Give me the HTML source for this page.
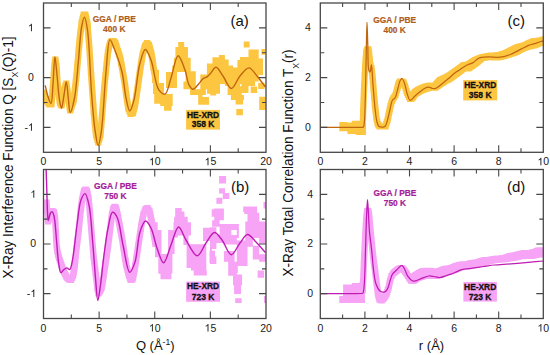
<!DOCTYPE html>
<html><head><meta charset="utf-8"><style>html,body{margin:0;padding:0;background:#fff;width:550px;height:355px;overflow:hidden}svg{display:block;font-family:"Liberation Sans",sans-serif}</style></head>
<body>
<svg width="550" height="355" viewBox="0 0 550 355" fill="#1a1a1a">
<rect width="550" height="355" fill="#fff"/>
<defs>
<clipPath id="clipa"><rect x="43.50" y="3.00" width="222.50" height="149.30"/></clipPath>
<clipPath id="clipb"><rect x="43.50" y="169.50" width="222.50" height="149.00"/></clipPath>
<clipPath id="clipc"><rect x="320.30" y="3.00" width="223.00" height="149.30"/></clipPath>
<clipPath id="clipd"><rect x="320.30" y="169.50" width="223.00" height="149.00"/></clipPath>
</defs>
<g clip-path="url(#clipa)" fill="#fdc640">
<path d="M40.9,89.9h6.2v6.2h-6.2zM41.4,91.9h6.2v6.2h-6.2zM41.9,93.9h6.2v6.2h-6.2zM42.9,95.9h6.2v6.2h-6.2zM43.9,97.9h6.2v6.2h-6.2zM44.7,99.1h6.2v6.2h-6.2zM45.6,100.2h6.2v6.2h-6.2zM46.4,101.4h6.2v6.2h-6.2zM47.4,101.2h6.2v6.2h-6.2zM48.4,100.9h6.2v6.2h-6.2zM48.6,98.5h6.2v6.2h-6.2zM48.8,96.2h6.2v6.2h-6.2zM49.0,93.8h6.2v6.2h-6.2zM49.1,91.4h6.2v6.2h-6.2zM49.3,89.0h6.2v6.2h-6.2zM49.5,86.7h6.2v6.2h-6.2zM49.7,84.3h6.2v6.2h-6.2zM49.9,81.9h6.2v6.2h-6.2zM50.1,79.4h6.2v6.2h-6.2zM50.3,76.9h6.2v6.2h-6.2zM50.5,74.4h6.2v6.2h-6.2zM50.6,71.9h6.2v6.2h-6.2zM50.8,69.4h6.2v6.2h-6.2zM51.0,66.9h6.2v6.2h-6.2zM51.2,64.4h6.2v6.2h-6.2zM51.4,61.9h6.2v6.2h-6.2zM51.7,60.1h6.2v6.2h-6.2zM51.9,58.3h6.2v6.2h-6.2zM52.2,56.5h6.2v6.2h-6.2zM52.6,58.6h6.2v6.2h-6.2zM53.0,60.8h6.2v6.2h-6.2zM53.4,62.9h6.2v6.2h-6.2zM53.5,65.3h6.2v6.2h-6.2zM53.7,67.7h6.2v6.2h-6.2zM53.9,70.1h6.2v6.2h-6.2zM54.0,72.5h6.2v6.2h-6.2zM54.1,74.9h6.2v6.2h-6.2zM54.3,77.3h6.2v6.2h-6.2zM54.4,79.7h6.2v6.2h-6.2zM54.6,82.1h6.2v6.2h-6.2zM54.8,84.5h6.2v6.2h-6.2zM54.9,86.9h6.2v6.2h-6.2zM55.2,89.1h6.2v6.2h-6.2zM55.6,91.2h6.2v6.2h-6.2zM55.9,93.4h6.2v6.2h-6.2zM56.2,95.6h6.2v6.2h-6.2zM56.6,97.7h6.2v6.2h-6.2zM56.9,99.9h6.2v6.2h-6.2zM57.7,101.2h6.2v6.2h-6.2zM58.5,102.4h6.2v6.2h-6.2zM58.8,100.2h6.2v6.2h-6.2zM59.2,98.0h6.2v6.2h-6.2zM59.5,95.8h6.2v6.2h-6.2zM59.9,93.5h6.2v6.2h-6.2zM60.2,91.3h6.2v6.2h-6.2zM60.6,89.1h6.2v6.2h-6.2zM60.9,86.9h6.2v6.2h-6.2zM61.7,84.7h6.2v6.2h-6.2zM62.4,82.6h6.2v6.2h-6.2zM63.2,80.4h6.2v6.2h-6.2zM63.5,82.7h6.2v6.2h-6.2zM63.9,85.0h6.2v6.2h-6.2zM64.2,87.3h6.2v6.2h-6.2zM64.6,89.6h6.2v6.2h-6.2zM64.9,91.9h6.2v6.2h-6.2zM65.2,94.1h6.2v6.2h-6.2zM65.5,96.3h6.2v6.2h-6.2zM65.8,98.5h6.2v6.2h-6.2zM66.1,100.8h6.2v6.2h-6.2zM66.4,103.0h6.2v6.2h-6.2zM66.7,105.2h6.2v6.2h-6.2zM67.0,107.4h6.2v6.2h-6.2zM67.7,105.3h6.2v6.2h-6.2zM68.5,103.2h6.2v6.2h-6.2zM69.2,101.1h6.2v6.2h-6.2zM70.0,99.0h6.2v6.2h-6.2zM70.7,96.9h6.2v6.2h-6.2zM71.0,94.6h6.2v6.2h-6.2zM71.2,92.2h6.2v6.2h-6.2zM71.5,89.9h6.2v6.2h-6.2zM71.7,87.6h6.2v6.2h-6.2zM72.0,85.2h6.2v6.2h-6.2zM72.2,82.9h6.2v6.2h-6.2zM72.5,80.6h6.2v6.2h-6.2zM72.7,78.2h6.2v6.2h-6.2zM73.0,75.9h6.2v6.2h-6.2zM73.2,73.6h6.2v6.2h-6.2zM73.5,71.2h6.2v6.2h-6.2zM73.7,68.9h6.2v6.2h-6.2zM73.9,66.4h6.2v6.2h-6.2zM74.1,64.0h6.2v6.2h-6.2zM74.3,61.5h6.2v6.2h-6.2zM74.6,59.1h6.2v6.2h-6.2zM74.8,56.6h6.2v6.2h-6.2zM75.0,54.1h6.2v6.2h-6.2zM75.2,51.7h6.2v6.2h-6.2zM75.4,49.2h6.2v6.2h-6.2zM75.6,46.7h6.2v6.2h-6.2zM75.9,44.3h6.2v6.2h-6.2zM76.1,41.8h6.2v6.2h-6.2zM76.3,39.4h6.2v6.2h-6.2zM76.5,36.9h6.2v6.2h-6.2zM76.8,34.6h6.2v6.2h-6.2zM77.0,32.4h6.2v6.2h-6.2zM77.3,30.1h6.2v6.2h-6.2zM77.6,27.9h6.2v6.2h-6.2zM77.9,25.6h6.2v6.2h-6.2zM78.2,23.4h6.2v6.2h-6.2zM78.4,21.1h6.2v6.2h-6.2zM78.7,18.9h6.2v6.2h-6.2zM79.3,16.4h6.2v6.2h-6.2zM80.0,13.9h6.2v6.2h-6.2zM80.6,11.4h6.2v6.2h-6.2zM81.4,11.4h6.2v6.2h-6.2zM82.2,11.4h6.2v6.2h-6.2zM82.8,13.8h6.2v6.2h-6.2zM83.3,16.1h6.2v6.2h-6.2zM83.9,18.5h6.2v6.2h-6.2zM84.4,20.9h6.2v6.2h-6.2zM84.6,23.3h6.2v6.2h-6.2zM84.8,25.6h6.2v6.2h-6.2zM84.9,28.0h6.2v6.2h-6.2zM85.1,30.4h6.2v6.2h-6.2zM85.3,32.7h6.2v6.2h-6.2zM85.5,35.1h6.2v6.2h-6.2zM85.7,37.4h6.2v6.2h-6.2zM85.9,39.8h6.2v6.2h-6.2zM86.0,42.2h6.2v6.2h-6.2zM86.2,44.5h6.2v6.2h-6.2zM86.4,46.9h6.2v6.2h-6.2zM86.6,49.4h6.2v6.2h-6.2zM86.7,51.9h6.2v6.2h-6.2zM86.9,54.4h6.2v6.2h-6.2zM87.1,56.9h6.2v6.2h-6.2zM87.2,59.4h6.2v6.2h-6.2zM87.4,61.9h6.2v6.2h-6.2zM87.6,64.4h6.2v6.2h-6.2zM87.7,66.9h6.2v6.2h-6.2zM87.9,69.4h6.2v6.2h-6.2zM88.1,71.9h6.2v6.2h-6.2zM88.2,74.4h6.2v6.2h-6.2zM88.4,76.9h6.2v6.2h-6.2zM88.6,79.4h6.2v6.2h-6.2zM88.8,81.9h6.2v6.2h-6.2zM88.9,84.4h6.2v6.2h-6.2zM89.1,86.9h6.2v6.2h-6.2zM89.3,89.4h6.2v6.2h-6.2zM89.5,91.9h6.2v6.2h-6.2zM89.7,94.4h6.2v6.2h-6.2zM89.8,96.9h6.2v6.2h-6.2zM90.0,99.4h6.2v6.2h-6.2zM90.2,101.9h6.2v6.2h-6.2zM90.4,104.4h6.2v6.2h-6.2zM90.5,106.9h6.2v6.2h-6.2zM90.7,109.4h6.2v6.2h-6.2zM90.9,111.9h6.2v6.2h-6.2zM91.2,114.4h6.2v6.2h-6.2zM91.4,116.9h6.2v6.2h-6.2zM91.7,119.4h6.2v6.2h-6.2zM91.9,121.9h6.2v6.2h-6.2zM92.2,124.4h6.2v6.2h-6.2zM92.4,126.9h6.2v6.2h-6.2zM92.7,129.4h6.2v6.2h-6.2zM92.9,131.9h6.2v6.2h-6.2zM93.7,134.4h6.2v6.2h-6.2zM94.4,136.9h6.2v6.2h-6.2zM95.2,139.4h6.2v6.2h-6.2zM95.9,136.9h6.2v6.2h-6.2zM96.7,134.4h6.2v6.2h-6.2zM97.4,131.9h6.2v6.2h-6.2zM97.6,129.4h6.2v6.2h-6.2zM97.8,126.9h6.2v6.2h-6.2zM98.0,124.4h6.2v6.2h-6.2zM98.2,121.9h6.2v6.2h-6.2zM98.4,119.4h6.2v6.2h-6.2zM98.6,116.9h6.2v6.2h-6.2zM98.8,114.4h6.2v6.2h-6.2zM99.0,111.9h6.2v6.2h-6.2zM99.2,109.4h6.2v6.2h-6.2zM99.4,106.9h6.2v6.2h-6.2zM99.6,104.4h6.2v6.2h-6.2zM99.8,101.9h6.2v6.2h-6.2zM100.0,99.4h6.2v6.2h-6.2zM100.2,96.9h6.2v6.2h-6.2zM100.4,94.4h6.2v6.2h-6.2zM100.6,91.9h6.2v6.2h-6.2zM100.8,89.4h6.2v6.2h-6.2zM101.0,86.9h6.2v6.2h-6.2zM101.2,84.4h6.2v6.2h-6.2zM101.4,81.9h6.2v6.2h-6.2zM101.7,79.4h6.2v6.2h-6.2zM101.9,76.9h6.2v6.2h-6.2zM102.2,74.4h6.2v6.2h-6.2zM102.4,71.9h6.2v6.2h-6.2zM102.7,69.4h6.2v6.2h-6.2zM102.9,66.9h6.2v6.2h-6.2zM103.2,64.4h6.2v6.2h-6.2zM103.4,61.9h6.2v6.2h-6.2zM103.7,59.7h6.2v6.2h-6.2zM103.9,57.6h6.2v6.2h-6.2zM104.2,55.4h6.2v6.2h-6.2zM104.4,53.2h6.2v6.2h-6.2zM104.7,51.1h6.2v6.2h-6.2zM104.9,48.9h6.2v6.2h-6.2zM105.4,46.6h6.2v6.2h-6.2zM105.9,44.2h6.2v6.2h-6.2zM106.4,41.9h6.2v6.2h-6.2zM107.2,40.1h6.2v6.2h-6.2zM107.9,38.4h6.2v6.2h-6.2zM108.7,38.2h6.2v6.2h-6.2zM109.6,38.1h6.2v6.2h-6.2zM110.4,37.9h6.2v6.2h-6.2zM111.1,38.7h6.2v6.2h-6.2zM111.8,39.6h6.2v6.2h-6.2zM112.5,40.4h6.2v6.2h-6.2zM113.3,42.9h6.2v6.2h-6.2zM114.1,45.4h6.2v6.2h-6.2zM114.9,47.9h6.2v6.2h-6.2zM115.6,50.2h6.2v6.2h-6.2zM116.4,52.6h6.2v6.2h-6.2zM117.1,54.9h6.2v6.2h-6.2zM117.6,57.3h6.2v6.2h-6.2zM118.0,59.7h6.2v6.2h-6.2zM118.5,62.1h6.2v6.2h-6.2zM118.9,64.5h6.2v6.2h-6.2zM119.4,66.9h6.2v6.2h-6.2zM119.8,69.4h6.2v6.2h-6.2zM120.2,71.9h6.2v6.2h-6.2zM120.7,74.4h6.2v6.2h-6.2zM121.1,76.9h6.2v6.2h-6.2zM121.5,79.4h6.2v6.2h-6.2zM121.9,81.9h6.2v6.2h-6.2zM122.2,84.4h6.2v6.2h-6.2zM122.6,86.9h6.2v6.2h-6.2zM122.9,89.4h6.2v6.2h-6.2zM123.2,91.9h6.2v6.2h-6.2zM123.6,94.4h6.2v6.2h-6.2zM123.9,96.9h6.2v6.2h-6.2zM124.3,99.2h6.2v6.2h-6.2zM124.7,101.4h6.2v6.2h-6.2zM125.0,103.7h6.2v6.2h-6.2zM125.4,105.9h6.2v6.2h-6.2zM126.4,108.4h6.2v6.2h-6.2zM127.4,110.9h6.2v6.2h-6.2zM128.2,110.6h6.2v6.2h-6.2zM129.1,110.2h6.2v6.2h-6.2zM129.9,109.9h6.2v6.2h-6.2zM130.4,107.9h6.2v6.2h-6.2zM130.9,105.9h6.2v6.2h-6.2zM131.4,103.9h6.2v6.2h-6.2zM131.9,101.9h6.2v6.2h-6.2zM132.2,99.7h6.2v6.2h-6.2zM132.6,97.6h6.2v6.2h-6.2zM132.9,95.4h6.2v6.2h-6.2zM133.2,93.2h6.2v6.2h-6.2zM133.6,91.1h6.2v6.2h-6.2zM133.9,88.9h6.2v6.2h-6.2zM134.2,86.6h6.2v6.2h-6.2zM134.6,84.2h6.2v6.2h-6.2zM134.9,81.9h6.2v6.2h-6.2zM135.2,79.6h6.2v6.2h-6.2zM135.6,77.2h6.2v6.2h-6.2zM135.9,74.9h6.2v6.2h-6.2zM136.2,72.6h6.2v6.2h-6.2zM136.6,70.2h6.2v6.2h-6.2zM136.9,67.9h6.2v6.2h-6.2zM137.2,65.6h6.2v6.2h-6.2zM137.6,63.2h6.2v6.2h-6.2zM137.9,60.9h6.2v6.2h-6.2zM138.3,58.7h6.2v6.2h-6.2zM138.7,56.5h6.2v6.2h-6.2zM139.1,54.3h6.2v6.2h-6.2zM139.5,52.1h6.2v6.2h-6.2zM139.9,49.9h6.2v6.2h-6.2zM140.6,47.6h6.2v6.2h-6.2zM141.2,45.2h6.2v6.2h-6.2zM141.9,42.9h6.2v6.2h-6.2zM142.9,41.4h6.2v6.2h-6.2zM143.9,39.9h6.2v6.2h-6.2zM144.9,40.9h6.2v6.2h-6.2zM145.9,41.9h6.2v6.2h-6.2zM146.6,44.2h6.2v6.2h-6.2zM147.2,46.6h6.2v6.2h-6.2zM147.9,48.9h6.2v6.2h-6.2zM148.3,50.9h6.2v6.2h-6.2zM148.7,52.9h6.2v6.2h-6.2zM149.0,54.9h6.2v6.2h-6.2zM149.4,56.9h6.2v6.2h-6.2zM149.7,58.9h6.2v6.2h-6.2zM149.9,60.9h6.2v6.2h-6.2zM150.2,62.9h6.2v6.2h-6.2zM150.4,64.9h6.2v6.2h-6.2zM150.9,67.2h6.2v6.2h-6.2zM151.4,69.6h6.2v6.2h-6.2zM151.9,71.9h6.2v6.2h-6.2zM152.0,70.0H159.0V83.0H152.0zM153.0,83.0H164.0V94.0H153.0zM154.2,94.0H160.7V103.7H154.2zM160.2,94.0H172.7V105.9H160.2zM164.0,105.9H171.6V110.8H164.0zM166.0,72.0H177.0V88.0H166.0zM172.2,65.4H190.7V72.0H172.2zM173.8,57.8H190.7V65.4H173.8zM175.4,46.9H188.0V57.8H175.4zM178.2,42.0H184.2V46.9H178.2zM185.6,71.3H195.8V81.4H185.6zM183.4,81.4H195.8V89.3H183.4zM190.1,89.3H205.9V94.9H190.1zM198.2,90.5H202.5V104.7H198.2zM198.2,97.0H209.1V104.7H198.2zM200.3,74.6H212.7V89.3H200.3zM207.0,63.4H220.0V93.8H207.0zM210.2,88.4H216.2V95.4H210.2zM206.9,64.4H212.4V88.0H206.9zM212.4,57.3H218.9V88.0H212.4zM218.9,55.1H224.9V84.0H218.9zM224.9,59.4H228.7V86.0H224.9zM228.7,65.4H233.0V95.0H228.7zM233.0,67.5H237.4V96.0H233.0zM227.6,86.2H241.8V94.9H227.6zM230.9,94.9H244.0V100.0H230.9zM235.6,97.7H243.1V104.6H235.6zM237.4,60.0H240.0V96.0H237.4zM240.0,56.9H248.5V84.3H240.0zM241.5,84.3H248.5V92.9H241.5zM248.5,49.4H258.7V81.6H248.5zM250.7,86.5H257.1V92.9H250.7zM258.2,58.5H263.0V75.0H258.2zM258.2,82.7H264.6V89.1H258.2zM259.2,96.7H265.7V110.0H259.2zM261.4,48.9H265.1V54.8H261.4zM243.7,41.4H249.6V47.6H243.7zM236.3,109.0H242.9V115.3H236.3zM248.5,81.6H255.0V86.0H248.5z"/>
</g>
<g clip-path="url(#clipb)" fill="#f7a3f6">
<path d="M43.4,199.4h6.2v6.2h-6.2zM43.5,201.2h6.2v6.2h-6.2zM43.6,203.1h6.2v6.2h-6.2zM43.7,204.9h6.2v6.2h-6.2zM43.9,206.9h6.2v6.2h-6.2zM44.2,208.9h6.2v6.2h-6.2zM44.4,210.9h6.2v6.2h-6.2zM44.6,213.4h6.2v6.2h-6.2zM44.7,215.9h6.2v6.2h-6.2zM44.9,218.4h6.2v6.2h-6.2zM45.6,216.6h6.2v6.2h-6.2zM46.2,214.7h6.2v6.2h-6.2zM46.9,212.9h6.2v6.2h-6.2zM47.9,210.4h6.2v6.2h-6.2zM48.9,207.9h6.2v6.2h-6.2zM49.9,208.4h6.2v6.2h-6.2zM50.9,208.9h6.2v6.2h-6.2zM51.2,210.9h6.2v6.2h-6.2zM51.6,212.9h6.2v6.2h-6.2zM51.9,214.9h6.2v6.2h-6.2zM52.1,217.2h6.2v6.2h-6.2zM52.2,219.6h6.2v6.2h-6.2zM52.4,221.9h6.2v6.2h-6.2zM52.5,224.4h6.2v6.2h-6.2zM52.6,226.9h6.2v6.2h-6.2zM52.8,229.4h6.2v6.2h-6.2zM52.9,231.9h6.2v6.2h-6.2zM53.0,234.4h6.2v6.2h-6.2zM53.1,236.9h6.2v6.2h-6.2zM53.3,239.4h6.2v6.2h-6.2zM53.4,241.9h6.2v6.2h-6.2zM53.7,244.2h6.2v6.2h-6.2zM54.1,246.6h6.2v6.2h-6.2zM54.4,248.9h6.2v6.2h-6.2zM54.9,250.9h6.2v6.2h-6.2zM55.4,252.9h6.2v6.2h-6.2zM55.9,254.9h6.2v6.2h-6.2zM56.7,257.2h6.2v6.2h-6.2zM57.6,259.6h6.2v6.2h-6.2zM58.4,261.9h6.2v6.2h-6.2zM59.2,264.2h6.2v6.2h-6.2zM60.1,266.6h6.2v6.2h-6.2zM60.9,268.9h6.2v6.2h-6.2zM61.7,270.6h6.2v6.2h-6.2zM62.6,272.2h6.2v6.2h-6.2zM63.4,273.9h6.2v6.2h-6.2zM64.2,274.7h6.2v6.2h-6.2zM65.1,275.6h6.2v6.2h-6.2zM65.9,276.4h6.2v6.2h-6.2zM66.9,276.6h6.2v6.2h-6.2zM67.9,276.9h6.2v6.2h-6.2zM68.9,274.9h6.2v6.2h-6.2zM69.9,272.9h6.2v6.2h-6.2zM70.3,270.9h6.2v6.2h-6.2zM70.7,268.9h6.2v6.2h-6.2zM71.0,266.9h6.2v6.2h-6.2zM71.4,264.9h6.2v6.2h-6.2zM71.7,262.4h6.2v6.2h-6.2zM71.9,259.9h6.2v6.2h-6.2zM72.2,257.4h6.2v6.2h-6.2zM72.4,254.9h6.2v6.2h-6.2zM72.7,252.4h6.2v6.2h-6.2zM72.9,249.9h6.2v6.2h-6.2zM73.2,247.4h6.2v6.2h-6.2zM73.4,244.9h6.2v6.2h-6.2zM73.7,242.9h6.2v6.2h-6.2zM73.9,240.9h6.2v6.2h-6.2zM74.2,238.9h6.2v6.2h-6.2zM74.4,236.9h6.2v6.2h-6.2zM74.7,234.9h6.2v6.2h-6.2zM74.9,232.9h6.2v6.2h-6.2zM75.2,230.9h6.2v6.2h-6.2zM75.4,228.9h6.2v6.2h-6.2zM75.7,226.4h6.2v6.2h-6.2zM75.9,223.9h6.2v6.2h-6.2zM76.2,221.4h6.2v6.2h-6.2zM76.4,218.9h6.2v6.2h-6.2zM76.7,216.4h6.2v6.2h-6.2zM76.9,213.9h6.2v6.2h-6.2zM77.2,211.4h6.2v6.2h-6.2zM77.4,208.9h6.2v6.2h-6.2zM77.7,206.5h6.2v6.2h-6.2zM78.0,204.1h6.2v6.2h-6.2zM78.3,201.7h6.2v6.2h-6.2zM78.6,199.3h6.2v6.2h-6.2zM78.9,196.9h6.2v6.2h-6.2zM79.4,194.7h6.2v6.2h-6.2zM79.9,192.4h6.2v6.2h-6.2zM80.4,190.2h6.2v6.2h-6.2zM80.9,187.9h6.2v6.2h-6.2zM81.7,187.2h6.2v6.2h-6.2zM82.4,186.4h6.2v6.2h-6.2zM83.2,187.2h6.2v6.2h-6.2zM83.9,187.9h6.2v6.2h-6.2zM84.4,190.2h6.2v6.2h-6.2zM84.9,192.6h6.2v6.2h-6.2zM85.4,194.9h6.2v6.2h-6.2zM85.7,197.4h6.2v6.2h-6.2zM85.9,199.9h6.2v6.2h-6.2zM86.2,202.4h6.2v6.2h-6.2zM86.4,204.9h6.2v6.2h-6.2zM86.6,207.3h6.2v6.2h-6.2zM86.8,209.7h6.2v6.2h-6.2zM87.0,212.1h6.2v6.2h-6.2zM87.2,214.5h6.2v6.2h-6.2zM87.4,216.9h6.2v6.2h-6.2zM87.6,219.3h6.2v6.2h-6.2zM87.8,221.7h6.2v6.2h-6.2zM88.0,224.1h6.2v6.2h-6.2zM88.2,226.5h6.2v6.2h-6.2zM88.4,228.9h6.2v6.2h-6.2zM88.6,231.3h6.2v6.2h-6.2zM88.8,233.7h6.2v6.2h-6.2zM89.0,236.1h6.2v6.2h-6.2zM89.2,238.5h6.2v6.2h-6.2zM89.4,240.9h6.2v6.2h-6.2zM89.6,243.3h6.2v6.2h-6.2zM89.8,245.7h6.2v6.2h-6.2zM90.0,248.1h6.2v6.2h-6.2zM90.2,250.5h6.2v6.2h-6.2zM90.4,252.9h6.2v6.2h-6.2zM90.7,255.3h6.2v6.2h-6.2zM91.0,257.7h6.2v6.2h-6.2zM91.3,260.1h6.2v6.2h-6.2zM91.6,262.5h6.2v6.2h-6.2zM91.9,264.9h6.2v6.2h-6.2zM92.2,267.3h6.2v6.2h-6.2zM92.5,269.7h6.2v6.2h-6.2zM92.8,272.1h6.2v6.2h-6.2zM93.1,274.5h6.2v6.2h-6.2zM93.4,276.9h6.2v6.2h-6.2zM93.7,279.1h6.2v6.2h-6.2zM93.9,281.4h6.2v6.2h-6.2zM94.2,283.6h6.2v6.2h-6.2zM94.4,285.9h6.2v6.2h-6.2zM94.9,288.1h6.2v6.2h-6.2zM95.4,290.4h6.2v6.2h-6.2zM96.2,289.1h6.2v6.2h-6.2zM96.9,287.9h6.2v6.2h-6.2zM97.7,286.4h6.2v6.2h-6.2zM98.4,284.9h6.2v6.2h-6.2zM98.8,282.9h6.2v6.2h-6.2zM99.2,280.9h6.2v6.2h-6.2zM99.5,278.9h6.2v6.2h-6.2zM99.9,276.9h6.2v6.2h-6.2zM100.3,274.4h6.2v6.2h-6.2zM100.7,271.9h6.2v6.2h-6.2zM101.0,269.4h6.2v6.2h-6.2zM101.4,266.9h6.2v6.2h-6.2zM101.8,264.4h6.2v6.2h-6.2zM102.2,261.9h6.2v6.2h-6.2zM102.5,259.4h6.2v6.2h-6.2zM102.9,256.9h6.2v6.2h-6.2zM103.3,254.4h6.2v6.2h-6.2zM103.7,251.9h6.2v6.2h-6.2zM104.0,249.4h6.2v6.2h-6.2zM104.4,246.9h6.2v6.2h-6.2zM104.7,244.5h6.2v6.2h-6.2zM105.0,242.1h6.2v6.2h-6.2zM105.3,239.7h6.2v6.2h-6.2zM105.6,237.3h6.2v6.2h-6.2zM105.9,234.9h6.2v6.2h-6.2zM106.2,232.5h6.2v6.2h-6.2zM106.5,230.1h6.2v6.2h-6.2zM106.8,227.7h6.2v6.2h-6.2zM107.1,225.3h6.2v6.2h-6.2zM107.4,222.9h6.2v6.2h-6.2zM107.7,220.5h6.2v6.2h-6.2zM108.0,218.1h6.2v6.2h-6.2zM108.3,215.7h6.2v6.2h-6.2zM108.6,213.3h6.2v6.2h-6.2zM108.9,210.9h6.2v6.2h-6.2zM109.4,208.9h6.2v6.2h-6.2zM109.9,206.9h6.2v6.2h-6.2zM110.4,204.9h6.2v6.2h-6.2zM111.4,203.7h6.2v6.2h-6.2zM112.2,204.3h6.2v6.2h-6.2zM112.9,204.9h6.2v6.2h-6.2zM113.4,206.9h6.2v6.2h-6.2zM113.9,208.9h6.2v6.2h-6.2zM114.4,210.9h6.2v6.2h-6.2zM114.8,212.9h6.2v6.2h-6.2zM115.2,214.9h6.2v6.2h-6.2zM115.5,216.9h6.2v6.2h-6.2zM115.9,218.9h6.2v6.2h-6.2zM116.3,220.9h6.2v6.2h-6.2zM116.7,222.9h6.2v6.2h-6.2zM117.0,224.9h6.2v6.2h-6.2zM117.4,226.9h6.2v6.2h-6.2zM117.8,228.9h6.2v6.2h-6.2zM118.2,230.9h6.2v6.2h-6.2zM118.5,232.9h6.2v6.2h-6.2zM118.9,234.9h6.2v6.2h-6.2zM119.3,237.4h6.2v6.2h-6.2zM119.7,239.9h6.2v6.2h-6.2zM120.0,242.4h6.2v6.2h-6.2zM120.4,244.9h6.2v6.2h-6.2zM120.8,247.4h6.2v6.2h-6.2zM121.2,249.9h6.2v6.2h-6.2zM121.5,252.4h6.2v6.2h-6.2zM121.9,254.9h6.2v6.2h-6.2zM122.3,256.9h6.2v6.2h-6.2zM122.7,258.9h6.2v6.2h-6.2zM123.0,260.9h6.2v6.2h-6.2zM123.4,262.9h6.2v6.2h-6.2zM123.9,264.9h6.2v6.2h-6.2zM124.4,266.9h6.2v6.2h-6.2zM124.9,268.9h6.2v6.2h-6.2zM125.4,270.9h6.2v6.2h-6.2zM125.9,272.9h6.2v6.2h-6.2zM126.7,274.9h6.2v6.2h-6.2zM127.4,276.9h6.2v6.2h-6.2zM128.4,276.6h6.2v6.2h-6.2zM129.4,276.4h6.2v6.2h-6.2zM129.9,274.2h6.2v6.2h-6.2zM130.4,272.1h6.2v6.2h-6.2zM130.9,269.9h6.2v6.2h-6.2zM131.3,267.6h6.2v6.2h-6.2zM131.7,265.4h6.2v6.2h-6.2zM132.0,263.1h6.2v6.2h-6.2zM132.4,260.9h6.2v6.2h-6.2zM132.8,258.4h6.2v6.2h-6.2zM133.2,255.9h6.2v6.2h-6.2zM133.5,253.4h6.2v6.2h-6.2zM133.9,250.9h6.2v6.2h-6.2zM134.3,248.4h6.2v6.2h-6.2zM134.7,245.9h6.2v6.2h-6.2zM135.0,243.4h6.2v6.2h-6.2zM135.4,240.9h6.2v6.2h-6.2zM135.8,238.4h6.2v6.2h-6.2zM136.2,235.9h6.2v6.2h-6.2zM136.5,233.4h6.2v6.2h-6.2zM136.9,230.9h6.2v6.2h-6.2zM137.3,228.4h6.2v6.2h-6.2zM137.7,225.9h6.2v6.2h-6.2zM138.0,223.4h6.2v6.2h-6.2zM138.4,220.9h6.2v6.2h-6.2zM138.9,218.4h6.2v6.2h-6.2zM139.4,215.9h6.2v6.2h-6.2zM139.9,213.4h6.2v6.2h-6.2zM140.4,210.9h6.2v6.2h-6.2zM141.4,208.4h6.2v6.2h-6.2zM142.4,205.9h6.2v6.2h-6.2zM143.4,205.4h6.2v6.2h-6.2zM144.4,204.9h6.2v6.2h-6.2zM145.4,206.4h6.2v6.2h-6.2zM146.4,207.9h6.2v6.2h-6.2zM146.9,210.2h6.2v6.2h-6.2zM147.4,212.6h6.2v6.2h-6.2zM147.9,214.9h6.2v6.2h-6.2zM148.3,216.9h6.2v6.2h-6.2zM148.7,218.9h6.2v6.2h-6.2zM149.0,220.9h6.2v6.2h-6.2zM149.4,222.9h6.2v6.2h-6.2zM149.8,225.2h6.2v6.2h-6.2zM150.2,227.4h6.2v6.2h-6.2zM150.5,229.7h6.2v6.2h-6.2zM150.9,231.9h6.2v6.2h-6.2zM151.3,234.2h6.2v6.2h-6.2zM151.7,236.4h6.2v6.2h-6.2zM152.0,238.7h6.2v6.2h-6.2zM152.4,240.9h6.2v6.2h-6.2zM175.2,208.1H181.7V211.4H175.2zM175.2,211.4H184.4V216.8H175.2zM174.1,216.8H187.7V222.3H174.1zM173.5,222.3H191.0V233.0H173.5zM155.0,222.3H157.7V233.0H155.0zM211.7,209.2H215.0V216.8H211.7zM203.0,227.7H215.0V233.0H203.0zM155.0,230.0H161.5V257.3H155.0zM158.3,254.0H172.4V268.0H158.3zM168.1,230.0H174.6V254.0H168.1zM174.6,230.0H177.9V237.6H174.6zM177.9,230.0H191.0V235.5H177.9zM183.4,235.5H188.5V245.0H183.4zM186.6,244.2H206.3V268.0H186.6zM203.0,230.0H215.0V241.0H203.0zM209.5,250.7H215.0V262.7H209.5zM158.3,265.0H172.4V273.7H158.3zM160.5,273.7H171.4V279.2H160.5zM191.0,265.0H206.3V270.5H191.0zM193.7,270.5H206.8V275.4H193.7zM219.1,175.9H226.1V183.4H219.1zM219.1,188.2H225.0V193.6H219.1zM222.8,193.0H229.3V198.9H222.8zM216.4,197.8H222.3V203.7H216.4zM263.5,202.1H266.2V208.6H263.5zM243.2,206.4H249.6V212.0H243.2zM214.3,208.6H223.9V220.3H214.3zM212.1,220.3H219.6V226.8H212.1zM219.6,224.1H238.9V230.0H219.6zM219.6,230.0H231.4V238.0H219.6zM236.8,230.0H238.9V238.0H236.8zM219.6,235.3H238.9V238.0H219.6zM210.0,227.3H216.4V238.0H210.0zM244.3,206.4H257.1V213.9H244.3zM247.5,212.8H259.3V221.4H247.5zM245.3,221.4H267.8V238.0H245.3zM210.0,235.0H216.4V249.0H210.0zM210.0,249.0H212.0V256.4H210.0zM210.0,256.4H216.4V263.9H210.0zM216.4,235.0H223.9V243.0H216.4zM223.9,235.0H236.8V244.6H223.9zM223.9,251.0H234.6V261.8H223.9zM228.2,261.8H237.8V273.0H228.2zM236.8,240.4H247.5V266.0H236.8zM245.3,235.0H252.8V246.8H245.3zM252.8,245.7H259.2V259.6H252.8zM259.2,235.0H266.0V243.4H259.2zM259.2,254.3H266.0V261.8H259.2zM228.2,265.0H236.8V275.7H228.2zM233.0,274.6H242.1V285.3H233.0zM234.1,285.3H241.0V293.9H234.1zM235.2,298.2H241.6V303.0H235.2zM238.9,265.0H247.5V266.0H238.9zM257.6,270.4H264.1V277.8H257.6zM264.0,296.0H266.2V303.0H264.0z"/>
</g>
<g clip-path="url(#clipc)" fill="#fdc640">
<path d="M359.7,121.9h6.2v6.2h-6.2zM359.8,119.4h6.2v6.2h-6.2zM359.8,116.9h6.2v6.2h-6.2zM359.9,114.4h6.2v6.2h-6.2zM360.0,111.9h6.2v6.2h-6.2zM360.0,109.4h6.2v6.2h-6.2zM360.1,106.9h6.2v6.2h-6.2zM360.2,104.4h6.2v6.2h-6.2zM360.3,101.9h6.2v6.2h-6.2zM360.4,99.4h6.2v6.2h-6.2zM360.5,96.9h6.2v6.2h-6.2zM360.6,94.4h6.2v6.2h-6.2zM360.7,91.9h6.2v6.2h-6.2zM360.8,89.4h6.2v6.2h-6.2zM360.9,86.9h6.2v6.2h-6.2zM361.0,84.4h6.2v6.2h-6.2zM361.1,81.9h6.2v6.2h-6.2zM361.3,79.4h6.2v6.2h-6.2zM361.4,76.9h6.2v6.2h-6.2zM361.5,74.4h6.2v6.2h-6.2zM361.6,71.9h6.2v6.2h-6.2zM361.8,69.4h6.2v6.2h-6.2zM361.9,66.9h6.2v6.2h-6.2zM362.0,64.4h6.2v6.2h-6.2zM362.2,61.9h6.2v6.2h-6.2zM362.4,59.4h6.2v6.2h-6.2zM362.5,56.9h6.2v6.2h-6.2zM362.7,54.9h6.2v6.2h-6.2zM362.9,52.9h6.2v6.2h-6.2zM363.0,50.9h6.2v6.2h-6.2zM363.2,48.9h6.2v6.2h-6.2zM363.7,47.6h6.2v6.2h-6.2zM364.2,46.3h6.2v6.2h-6.2zM364.8,46.3h6.2v6.2h-6.2zM365.4,46.3h6.2v6.2h-6.2zM365.6,48.2h6.2v6.2h-6.2zM365.9,50.0h6.2v6.2h-6.2zM366.1,51.9h6.2v6.2h-6.2zM366.3,54.2h6.2v6.2h-6.2zM366.6,56.6h6.2v6.2h-6.2zM366.8,58.9h6.2v6.2h-6.2zM367.1,60.9h6.2v6.2h-6.2zM367.5,62.9h6.2v6.2h-6.2zM368.3,64.9h6.2v6.2h-6.2zM368.6,66.9h6.2v6.2h-6.2zM368.8,68.9h6.2v6.2h-6.2zM369.1,70.9h6.2v6.2h-6.2zM369.3,72.9h6.2v6.2h-6.2zM369.5,74.9h6.2v6.2h-6.2zM369.7,76.9h6.2v6.2h-6.2zM369.9,78.9h6.2v6.2h-6.2zM370.1,81.4h6.2v6.2h-6.2zM370.3,83.9h6.2v6.2h-6.2zM370.5,86.4h6.2v6.2h-6.2zM370.7,88.9h6.2v6.2h-6.2zM370.9,91.4h6.2v6.2h-6.2zM371.1,93.9h6.2v6.2h-6.2zM371.4,96.4h6.2v6.2h-6.2zM371.6,98.9h6.2v6.2h-6.2zM371.8,101.2h6.2v6.2h-6.2zM372.0,103.4h6.2v6.2h-6.2zM372.3,105.7h6.2v6.2h-6.2zM372.5,107.9h6.2v6.2h-6.2zM372.8,109.9h6.2v6.2h-6.2zM373.0,111.9h6.2v6.2h-6.2zM373.2,113.9h6.2v6.2h-6.2zM373.5,115.9h6.2v6.2h-6.2zM374.1,118.4h6.2v6.2h-6.2zM374.7,120.9h6.2v6.2h-6.2zM375.5,122.1h6.2v6.2h-6.2zM376.4,123.2h6.2v6.2h-6.2zM377.2,123.3h6.2v6.2h-6.2zM378.1,123.3h6.2v6.2h-6.2zM378.9,123.4h6.2v6.2h-6.2zM379.8,123.4h6.2v6.2h-6.2zM380.6,123.3h6.2v6.2h-6.2zM381.5,123.2h6.2v6.2h-6.2zM382.4,123.2h6.2v6.2h-6.2zM383.1,121.1h6.2v6.2h-6.2zM383.7,119.0h6.2v6.2h-6.2zM384.4,116.9h6.2v6.2h-6.2zM384.9,114.6h6.2v6.2h-6.2zM385.4,112.2h6.2v6.2h-6.2zM385.9,109.9h6.2v6.2h-6.2zM386.4,107.6h6.2v6.2h-6.2zM386.9,105.2h6.2v6.2h-6.2zM387.4,102.9h6.2v6.2h-6.2zM388.1,100.4h6.2v6.2h-6.2zM388.9,97.9h6.2v6.2h-6.2zM389.6,96.4h6.2v6.2h-6.2zM390.4,94.9h6.2v6.2h-6.2zM391.4,93.4h6.2v6.2h-6.2zM392.4,91.9h6.2v6.2h-6.2zM393.1,89.4h6.2v6.2h-6.2zM393.9,86.9h6.2v6.2h-6.2zM394.4,84.9h6.2v6.2h-6.2zM394.9,82.9h6.2v6.2h-6.2zM395.4,80.9h6.2v6.2h-6.2zM396.1,79.7h6.2v6.2h-6.2zM396.9,78.4h6.2v6.2h-6.2zM397.9,78.4h6.2v6.2h-6.2zM398.9,78.4h6.2v6.2h-6.2zM399.6,78.9h6.2v6.2h-6.2zM400.4,79.4h6.2v6.2h-6.2zM401.1,81.2h6.2v6.2h-6.2zM401.9,82.9h6.2v6.2h-6.2zM402.6,85.4h6.2v6.2h-6.2zM403.4,87.9h6.2v6.2h-6.2zM404.1,89.9h6.2v6.2h-6.2zM404.9,91.9h6.2v6.2h-6.2zM405.9,92.9h6.2v7.2h-6.2zM406.9,93.9h6.2v8.2h-6.2zM407.7,93.6h6.2v8.2h-6.2zM408.6,93.2h6.2v8.2h-6.2zM409.4,92.9h6.2v8.2h-6.2zM410.2,91.6h6.2v8.2h-6.2zM411.1,90.2h6.2v8.2h-6.2zM411.9,88.9h6.2v8.2h-6.2zM412.9,88.3h6.2v8.2h-6.2zM413.9,87.7h6.2v8.2h-6.2zM414.9,87.1h6.2v8.2h-6.2zM415.9,86.5h6.2v8.2h-6.2zM416.9,85.9h6.2v8.2h-6.2zM417.9,85.5h6.2v8.2h-6.2zM418.9,85.1h6.2v8.2h-6.2zM419.9,84.6h6.2v8.2h-6.2zM420.9,84.2h6.2v8.2h-6.2zM421.9,83.8h6.2v8.2h-6.2zM422.9,83.5h6.2v8.2h-6.2zM423.9,83.2h6.2v8.2h-6.2zM424.9,83.0h6.2v8.2h-6.2zM425.9,82.7h6.2v8.2h-6.2zM426.9,82.4h6.2v8.2h-6.2zM427.9,82.4h6.2v8.2h-6.2zM428.9,82.4h6.2v8.2h-6.2zM429.9,82.5h6.2v8.2h-6.2zM430.9,82.5h6.2v8.2h-6.2zM431.9,82.5h6.2v8.2h-6.2zM432.9,81.4h6.2v8.6h-6.2zM433.9,80.3h6.2v9.0h-6.2zM434.9,79.3h6.2v9.4h-6.2zM435.9,78.2h6.2v9.8h-6.2zM436.9,77.1h6.2v10.2h-6.2zM437.9,76.7h6.2v10.0h-6.2zM438.9,76.2h6.2v9.8h-6.2zM439.9,75.8h6.2v9.6h-6.2zM440.9,75.3h6.2v9.4h-6.2zM441.9,74.9h6.2v9.2h-6.2zM442.8,74.4h6.2v9.2h-6.2zM443.7,74.0h6.2v9.2h-6.2zM444.6,73.5h6.2v9.2h-6.2zM445.5,73.1h6.2v9.2h-6.2zM446.4,72.6h6.2v9.2h-6.2zM447.3,71.9h6.2v9.2h-6.2zM448.3,71.3h6.2v9.2h-6.2zM449.2,70.6h6.2v9.2h-6.2zM450.1,69.9h6.2v9.2h-6.2zM451.0,69.2h6.2v9.2h-6.2zM452.0,68.6h6.2v9.2h-6.2zM452.9,67.9h6.2v9.2h-6.2zM453.9,67.2h6.2v9.2h-6.2zM454.9,66.4h6.2v9.2h-6.2zM455.9,65.7h6.2v9.2h-6.2zM456.9,64.9h6.2v9.2h-6.2zM457.9,64.2h6.2v9.2h-6.2zM458.9,63.4h6.2v9.2h-6.2zM459.9,62.7h6.2v9.2h-6.2zM460.9,61.9h6.2v9.2h-6.2zM461.9,61.9h6.2v9.3h-6.2zM462.9,61.8h6.2v9.5h-6.2zM463.9,61.8h6.2v9.7h-6.2zM464.9,61.8h6.2v9.8h-6.2zM465.9,61.1h6.2v9.8h-6.2zM466.9,60.5h6.2v9.8h-6.2zM467.9,59.8h6.2v9.8h-6.2zM468.9,59.1h6.2v9.8h-6.2zM469.9,58.4h6.2v9.8h-6.2zM470.9,57.8h6.2v9.8h-6.2zM471.9,57.1h6.2v9.8h-6.2zM472.9,56.7h6.2v9.4h-6.2zM473.9,56.3h6.2v8.9h-6.2zM474.9,55.9h6.2v8.5h-6.2zM475.9,55.5h6.2v8.1h-6.2zM476.9,55.1h6.2v7.7h-6.2zM477.9,54.7h6.2v7.2h-6.2zM478.9,54.3h6.2v6.8h-6.2zM479.9,54.1h6.2v6.9h-6.2zM480.9,53.9h6.2v6.9h-6.2zM481.9,53.7h6.2v7.0h-6.2zM482.9,53.5h6.2v7.0h-6.2zM483.9,53.3h6.2v7.0h-6.2zM484.9,53.1h6.2v7.1h-6.2zM485.9,52.9h6.2v7.2h-6.2zM486.9,52.7h6.2v7.2h-6.2zM487.9,52.6h6.2v7.4h-6.2zM488.9,52.6h6.2v7.6h-6.2zM489.9,52.5h6.2v7.8h-6.2zM490.9,52.5h6.2v8.0h-6.2zM491.9,52.4h6.2v8.2h-6.2zM492.9,52.3h6.2v8.2h-6.2zM493.9,52.2h6.2v8.2h-6.2zM494.9,52.1h6.2v8.2h-6.2zM495.9,52.0h6.2v8.2h-6.2zM496.9,51.9h6.2v8.2h-6.2zM497.9,51.6h6.2v8.2h-6.2zM498.9,51.4h6.2v8.2h-6.2zM499.9,51.1h6.2v8.2h-6.2zM500.9,50.9h6.2v8.2h-6.2zM501.9,50.6h6.2v8.2h-6.2zM502.9,50.1h6.2v8.4h-6.2zM503.9,49.5h6.2v8.6h-6.2zM504.9,49.0h6.2v8.8h-6.2zM505.9,48.4h6.2v9.0h-6.2zM506.9,47.9h6.2v9.2h-6.2zM507.9,47.4h6.2v9.4h-6.2zM508.9,46.9h6.2v9.5h-6.2zM509.9,46.4h6.2v9.7h-6.2zM510.9,45.9h6.2v9.9h-6.2zM511.9,45.4h6.2v10.0h-6.2zM512.9,44.9h6.2v10.2h-6.2zM513.8,44.6h6.2v10.0h-6.2zM514.7,44.3h6.2v9.8h-6.2zM515.6,44.0h6.2v9.6h-6.2zM516.5,43.7h6.2v9.4h-6.2zM517.4,43.4h6.2v9.2h-6.2zM518.3,43.2h6.2v9.0h-6.2zM519.2,43.0h6.2v8.8h-6.2zM520.1,42.7h6.2v8.6h-6.2zM521.0,42.5h6.2v8.4h-6.2zM521.9,42.3h6.2v8.2h-6.2zM522.9,41.8h6.2v8.4h-6.2zM523.9,41.2h6.2v8.7h-6.2zM524.9,40.7h6.2v8.9h-6.2zM525.9,40.2h6.2v9.2h-6.2zM526.9,39.8h6.2v9.4h-6.2zM527.9,39.4h6.2v9.6h-6.2zM528.9,39.0h6.2v9.8h-6.2zM529.9,38.6h6.2v10.0h-6.2zM530.9,38.2h6.2v10.2h-6.2zM531.9,38.1h6.2v9.9h-6.2zM532.9,38.0h6.2v9.6h-6.2zM533.9,37.9h6.2v9.3h-6.2zM534.9,37.7h6.2v9.1h-6.2zM535.9,37.6h6.2v8.8h-6.2zM536.9,37.5h6.2v8.5h-6.2zM537.9,37.4h6.2v8.2h-6.2zM538.9,37.1h6.2v8.2h-6.2zM539.9,36.8h6.2v8.2h-6.2zM540.9,36.5h6.2v8.2h-6.2zM541.9,36.2h6.2v8.2h-6.2zM542.9,35.9h6.2v8.2h-6.2zM339.3,122.0H347.4V131.2H339.3zM347.4,122.4H351.8V133.9H347.4zM351.8,120.8H359.4V133.9H351.8zM355.6,125.0H363.8V135.0H355.6zM359.4,120.8H366.0V135.0H359.4z"/>
</g>
<g clip-path="url(#clipd)" fill="#f7a3f6">
<path d="M359.7,286.9h6.2v6.2h-6.2zM359.8,284.4h6.2v6.2h-6.2zM359.9,281.9h6.2v6.2h-6.2zM360.0,279.4h6.2v6.2h-6.2zM360.1,276.9h6.2v6.2h-6.2zM360.2,274.4h6.2v6.2h-6.2zM360.3,271.9h6.2v6.2h-6.2zM360.4,269.4h6.2v6.2h-6.2zM360.5,266.9h6.2v6.2h-6.2zM360.6,264.4h6.2v6.2h-6.2zM360.7,261.9h6.2v6.2h-6.2zM360.8,259.4h6.2v6.2h-6.2zM360.9,256.9h6.2v6.2h-6.2zM361.0,254.4h6.2v6.2h-6.2zM361.1,251.9h6.2v6.2h-6.2zM361.3,249.4h6.2v6.2h-6.2zM361.4,246.9h6.2v6.2h-6.2zM361.5,244.4h6.2v6.2h-6.2zM361.6,241.9h6.2v6.2h-6.2zM361.8,239.4h6.2v6.2h-6.2zM361.9,236.9h6.2v6.2h-6.2zM362.0,234.5h6.2v6.2h-6.2zM362.1,232.1h6.2v6.2h-6.2zM362.3,229.7h6.2v6.2h-6.2zM362.4,227.3h6.2v6.2h-6.2zM362.5,224.9h6.2v6.2h-6.2zM362.7,222.4h6.2v6.2h-6.2zM362.9,219.9h6.2v6.2h-6.2zM363.0,217.4h6.2v6.2h-6.2zM363.2,214.9h6.2v6.2h-6.2zM363.5,212.6h6.2v6.2h-6.2zM363.8,210.2h6.2v6.2h-6.2zM364.1,207.9h6.2v6.2h-6.2zM364.6,207.8h6.2v6.2h-6.2zM365.2,207.7h6.2v6.2h-6.2zM365.5,209.4h6.2v6.2h-6.2zM365.8,211.2h6.2v6.2h-6.2zM366.1,212.9h6.2v6.2h-6.2zM366.3,215.2h6.2v6.2h-6.2zM366.5,217.4h6.2v6.2h-6.2zM366.7,219.7h6.2v6.2h-6.2zM366.9,221.9h6.2v6.2h-6.2zM367.1,224.4h6.2v6.2h-6.2zM367.4,226.9h6.2v6.2h-6.2zM367.6,229.4h6.2v6.2h-6.2zM367.9,231.9h6.2v6.2h-6.2zM368.1,234.4h6.2v6.2h-6.2zM368.4,236.9h6.2v6.2h-6.2zM368.6,239.4h6.2v6.2h-6.2zM368.9,241.9h6.2v6.2h-6.2zM369.1,244.4h6.2v6.2h-6.2zM369.4,246.9h6.2v6.2h-6.2zM369.6,249.4h6.2v6.2h-6.2zM369.9,251.9h6.2v6.2h-6.2zM370.1,253.9h6.2v6.2h-6.2zM370.4,255.9h6.2v6.2h-6.2zM370.6,257.9h6.2v6.2h-6.2zM370.9,259.9h6.2v6.2h-6.2zM371.2,262.2h6.2v6.2h-6.2zM371.6,264.6h6.2v6.2h-6.2zM371.9,266.9h6.2v6.2h-6.2zM372.1,268.9h6.2v6.2h-6.2zM372.4,270.9h6.2v6.2h-6.2zM372.6,272.9h6.2v6.2h-6.2zM372.9,274.9h6.2v6.2h-6.2zM373.1,276.9h6.2v6.2h-6.2zM373.4,278.9h6.2v6.2h-6.2zM373.6,280.9h6.2v6.2h-6.2zM373.9,282.9h6.2v6.2h-6.2zM374.1,284.9h6.2v6.2h-6.2zM374.4,286.9h6.2v6.2h-6.2zM374.6,288.9h6.2v6.2h-6.2zM374.9,290.9h6.2v6.2h-6.2zM375.4,292.7h6.2v6.2h-6.2zM375.9,294.6h6.2v6.2h-6.2zM376.4,296.4h6.2v6.2h-6.2zM377.4,296.9h6.2v6.2h-6.2zM378.4,297.4h6.2v6.2h-6.2zM379.2,296.6h6.2v6.2h-6.2zM380.1,295.7h6.2v6.2h-6.2zM380.9,294.9h6.2v6.2h-6.2zM381.7,293.6h6.2v6.2h-6.2zM382.6,292.2h6.2v6.2h-6.2zM383.4,290.9h6.2v6.2h-6.2zM384.1,288.9h6.2v6.2h-6.2zM384.7,286.9h6.2v6.2h-6.2zM385.4,284.9h6.2v6.2h-6.2zM385.9,282.6h6.2v6.2h-6.2zM386.4,280.2h6.2v6.2h-6.2zM386.9,277.9h6.2v6.2h-6.2zM387.6,275.4h6.2v6.2h-6.2zM388.4,272.9h6.2v6.2h-6.2zM389.4,271.4h6.2v6.2h-6.2zM390.4,269.9h6.2v6.2h-6.2zM391.2,269.2h6.2v6.2h-6.2zM392.1,268.6h6.2v6.2h-6.2zM392.9,267.9h6.2v6.2h-6.2zM393.7,267.2h6.2v6.2h-6.2zM394.6,266.6h6.2v6.2h-6.2zM395.4,265.9h6.2v6.2h-6.2zM396.4,265.6h6.2v6.2h-6.2zM397.4,265.2h6.2v6.2h-6.2zM398.4,264.9h6.2v6.2h-6.2zM399.4,265.7h6.2v6.2h-6.2zM400.4,266.6h6.2v6.2h-6.2zM401.4,267.4h6.2v6.2h-6.2zM402.2,268.7h6.2v6.2h-6.2zM403.1,270.1h6.2v6.2h-6.2zM403.9,271.4h6.2v6.2h-6.2zM404.9,272.9h6.2v6.2h-6.2zM405.9,274.4h6.2v6.2h-6.2zM406.7,274.6h6.2v7.2h-6.2zM407.6,274.7h6.2v8.2h-6.2zM408.4,274.9h6.2v9.2h-6.2zM409.2,274.4h6.2v9.5h-6.2zM410.1,273.9h6.2v9.9h-6.2zM410.9,273.4h6.2v10.2h-6.2zM411.8,272.8h6.2v10.2h-6.2zM412.6,272.1h6.2v10.2h-6.2zM413.5,271.5h6.2v10.2h-6.2zM414.4,270.9h6.2v10.2h-6.2zM415.3,270.4h6.2v10.4h-6.2zM416.1,269.9h6.2v10.7h-6.2zM417.0,269.4h6.2v10.9h-6.2zM417.9,268.9h6.2v11.2h-6.2zM418.7,268.6h6.2v11.2h-6.2zM419.5,268.4h6.2v11.2h-6.2zM420.4,268.1h6.2v11.2h-6.2zM421.2,267.9h6.2v11.2h-6.2zM422.1,267.9h6.2v11.2h-6.2zM422.9,267.8h6.2v11.2h-6.2zM423.8,267.8h6.2v11.2h-6.2zM424.6,267.7h6.2v11.2h-6.2zM425.5,267.7h6.2v11.2h-6.2zM426.4,267.8h6.2v11.0h-6.2zM427.3,268.0h6.2v10.8h-6.2zM428.1,268.1h6.2v10.6h-6.2zM429.0,268.3h6.2v10.4h-6.2zM429.9,268.4h6.2v10.2h-6.2zM430.9,268.6h6.2v10.2h-6.2zM431.9,268.7h6.2v10.2h-6.2zM432.9,268.9h6.2v10.2h-6.2zM433.9,268.6h6.2v10.2h-6.2zM434.9,268.4h6.2v10.2h-6.2zM435.9,268.1h6.2v10.2h-6.2zM436.9,267.9h6.2v10.2h-6.2zM437.9,267.5h6.2v10.0h-6.2zM438.9,267.1h6.2v9.8h-6.2zM439.9,266.7h6.2v9.6h-6.2zM440.9,266.3h6.2v9.4h-6.2zM441.9,265.9h6.2v9.2h-6.2zM442.9,265.8h6.2v9.2h-6.2zM443.9,265.6h6.2v9.2h-6.2zM444.8,265.5h6.2v9.2h-6.2zM445.8,265.4h6.2v9.2h-6.2zM446.8,265.2h6.2v9.2h-6.2zM447.8,265.1h6.2v9.2h-6.2zM448.7,264.7h6.2v9.2h-6.2zM449.6,264.4h6.2v9.2h-6.2zM450.5,264.0h6.2v9.2h-6.2zM451.5,263.6h6.2v9.2h-6.2zM452.4,263.3h6.2v9.2h-6.2zM453.3,262.9h6.2v9.2h-6.2zM454.2,262.6h6.2v9.0h-6.2zM455.1,262.4h6.2v8.9h-6.2zM456.0,262.1h6.2v8.7h-6.2zM456.9,261.9h6.2v8.5h-6.2zM457.8,261.6h6.2v8.4h-6.2zM458.7,261.4h6.2v8.2h-6.2zM459.6,261.4h6.2v8.2h-6.2zM460.5,261.3h6.2v8.2h-6.2zM461.4,261.3h6.2v8.2h-6.2zM462.4,261.3h6.2v8.2h-6.2zM463.3,261.2h6.2v8.2h-6.2zM464.2,261.2h6.2v8.2h-6.2zM465.1,261.0h6.2v8.2h-6.2zM466.0,260.8h6.2v8.2h-6.2zM466.9,260.5h6.2v8.2h-6.2zM467.8,260.3h6.2v8.2h-6.2zM468.7,260.1h6.2v8.2h-6.2zM469.6,259.9h6.2v8.2h-6.2zM470.5,259.8h6.2v8.2h-6.2zM471.3,259.7h6.2v8.2h-6.2zM472.2,259.6h6.2v8.2h-6.2zM473.0,259.5h6.2v8.2h-6.2zM473.9,259.4h6.2v8.2h-6.2zM474.8,259.1h6.2v8.2h-6.2zM475.7,258.9h6.2v8.2h-6.2zM476.5,258.6h6.2v8.2h-6.2zM477.4,258.4h6.2v8.2h-6.2zM478.3,258.1h6.2v8.2h-6.2zM479.2,257.8h6.2v8.2h-6.2zM480.1,257.5h6.2v8.2h-6.2zM481.0,257.2h6.2v8.2h-6.2zM481.9,256.9h6.2v8.2h-6.2zM482.7,256.9h6.2v8.0h-6.2zM483.5,256.9h6.2v7.8h-6.2zM484.4,256.9h6.2v7.6h-6.2zM485.2,256.9h6.2v7.4h-6.2zM486.0,256.9h6.2v7.2h-6.2zM487.0,256.7h6.2v7.2h-6.2zM488.0,256.6h6.2v7.2h-6.2zM488.9,256.4h6.2v7.2h-6.2zM489.9,256.2h6.2v7.2h-6.2zM490.9,256.1h6.2v7.2h-6.2zM491.9,255.9h6.2v7.2h-6.2zM492.8,255.8h6.2v7.2h-6.2zM493.6,255.7h6.2v7.2h-6.2zM494.5,255.6h6.2v7.2h-6.2zM495.4,255.6h6.2v7.2h-6.2zM496.2,255.5h6.2v7.2h-6.2zM497.1,255.4h6.2v7.2h-6.2zM498.1,255.3h6.2v7.2h-6.2zM499.0,255.2h6.2v7.2h-6.2zM500.0,255.1h6.2v7.2h-6.2zM500.9,255.0h6.2v7.2h-6.2zM501.9,254.9h6.2v7.2h-6.2zM502.9,254.5h6.2v7.4h-6.2zM503.9,254.2h6.2v7.6h-6.2zM504.9,253.8h6.2v7.8h-6.2zM505.9,253.5h6.2v8.0h-6.2zM506.9,253.1h6.2v8.2h-6.2zM507.8,253.0h6.2v8.2h-6.2zM508.7,252.8h6.2v8.2h-6.2zM509.6,252.7h6.2v8.2h-6.2zM510.6,252.5h6.2v8.2h-6.2zM511.5,252.3h6.2v8.2h-6.2zM512.4,252.2h6.2v8.2h-6.2zM513.3,252.0h6.2v8.2h-6.2zM514.2,251.8h6.2v8.2h-6.2zM515.1,251.5h6.2v8.2h-6.2zM516.0,251.3h6.2v8.2h-6.2zM516.9,251.1h6.2v8.2h-6.2zM517.9,250.9h6.2v8.4h-6.2zM518.9,250.6h6.2v8.6h-6.2zM519.9,250.4h6.2v8.8h-6.2zM520.9,250.1h6.2v9.0h-6.2zM521.9,249.9h6.2v9.2h-6.2zM522.9,249.9h6.2v9.2h-6.2zM523.8,249.9h6.2v9.2h-6.2zM524.8,249.9h6.2v9.2h-6.2zM525.7,249.9h6.2v9.2h-6.2zM526.6,249.9h6.2v9.2h-6.2zM527.6,249.9h6.2v9.2h-6.2zM528.5,249.7h6.2v9.2h-6.2zM529.3,249.5h6.2v9.2h-6.2zM530.2,249.3h6.2v9.2h-6.2zM531.0,249.1h6.2v9.2h-6.2zM531.9,248.9h6.2v9.2h-6.2zM532.9,248.4h6.2v9.5h-6.2zM533.9,247.9h6.2v9.9h-6.2zM534.9,247.4h6.2v10.2h-6.2zM535.9,247.4h6.2v10.2h-6.2zM536.9,247.3h6.2v10.2h-6.2zM537.9,247.3h6.2v10.2h-6.2zM538.9,247.2h6.2v10.2h-6.2zM539.9,247.2h6.2v10.2h-6.2zM339.3,296.0H343.1V303.0H339.3zM343.1,284.5H351.8V303.0H343.1zM351.8,282.9H359.4V303.0H351.8zM359.4,282.0H365.0V303.0H359.4z"/>
</g>
<g clip-path="url(#clipa)">
<path d="M45.20,85.30 C45.97,88.53 46.50,91.91 47.50,95.00 C48.46,97.97 50.12,103.63 51.00,103.50 C52.28,103.31 52.39,91.05 53.00,84.00 C53.72,75.67 54.15,56.72 54.90,56.70 C55.52,56.69 56.29,68.42 57.00,75.00 C57.82,82.68 58.47,93.96 59.50,100.00 C60.10,103.50 60.84,108.22 61.50,108.20 C62.34,108.18 63.20,99.40 64.00,95.00 C64.80,90.60 65.61,81.78 66.30,81.80 C67.06,81.82 67.63,92.75 68.30,98.00 C68.93,102.97 69.18,112.42 70.20,112.50 C71.24,112.58 73.30,104.01 74.50,98.00 C76.38,88.57 77.20,73.08 78.40,61.00 C79.55,49.43 80.12,34.90 81.60,27.00 C82.41,22.67 83.48,17.08 84.40,17.10 C85.45,17.12 86.60,24.01 87.50,30.00 C89.49,43.17 90.15,75.72 91.60,94.00 C92.69,107.72 93.58,120.52 95.00,130.00 C95.94,136.27 97.12,145.50 98.20,145.50 C99.28,145.50 100.51,136.86 101.50,130.00 C103.40,116.87 104.37,88.52 106.00,72.00 C107.22,59.62 107.78,39.96 109.90,39.60 C111.03,39.41 112.54,44.42 114.00,48.00 C116.41,53.89 120.01,63.75 122.00,72.00 C124.03,80.41 124.42,90.86 126.00,98.00 C127.14,103.12 128.41,110.94 129.80,111.00 C131.09,111.05 132.71,104.81 134.00,100.00 C136.27,91.54 137.34,73.22 139.80,64.00 C141.41,57.99 143.29,49.64 145.30,49.50 C147.06,49.38 149.21,55.47 151.00,60.00 C153.86,67.24 155.05,84.36 158.70,89.60 C160.53,92.23 163.20,94.56 165.00,94.00 C167.68,93.17 168.99,83.80 171.00,78.00 C173.35,71.23 175.50,55.99 178.10,55.80 C180.24,55.65 183.18,65.13 185.00,70.00 C186.80,74.80 187.18,81.43 189.00,84.80 C190.14,86.91 191.52,89.24 193.00,89.30 C194.68,89.37 196.88,85.83 198.60,84.00 C200.24,82.26 201.50,79.80 203.10,78.60 C204.34,77.67 205.81,77.71 207.00,76.90 C208.26,76.04 209.14,74.82 210.40,73.50 C212.05,71.76 214.06,67.24 216.00,67.30 C218.24,67.36 220.64,72.78 223.00,76.00 C225.73,79.73 228.48,88.47 231.30,88.50 C234.14,88.53 236.87,79.57 240.00,76.00 C242.78,72.83 246.03,67.83 248.90,67.90 C251.70,67.97 254.37,73.00 257.00,76.00 C259.89,79.30 262.60,83.33 265.40,87.00" stroke="#c0660f" stroke-width="1.40" fill="none" stroke-linejoin="round"/>
</g>
<g clip-path="url(#clipb)">
<path d="M46.00,165.00 C46.27,173.33 46.54,181.93 46.80,190.00 C47.04,197.57 47.15,206.38 47.50,212.00 C47.72,215.50 47.78,220.45 48.30,220.50 C48.80,220.55 49.58,214.45 50.50,213.00 C50.98,212.25 51.61,211.49 52.10,211.60 C52.83,211.77 53.45,213.89 54.00,216.00 C55.24,220.74 55.74,232.17 56.50,240.00 C57.23,247.49 57.56,256.00 58.50,262.00 C59.16,266.23 59.67,272.36 60.90,272.70 C61.62,272.90 62.53,270.79 63.50,270.00 C64.49,269.19 65.73,267.93 66.80,267.90 C67.79,267.87 68.89,269.83 69.70,269.50 C71.10,268.92 71.61,264.21 72.50,260.00 C74.17,252.05 75.46,235.68 77.00,225.00 C78.30,215.96 78.95,205.47 81.00,200.00 C82.12,197.01 83.79,193.47 85.00,193.60 C86.53,193.77 87.90,200.03 89.00,205.00 C90.94,213.72 91.61,229.75 92.70,242.00 C93.77,254.08 94.55,267.41 95.50,278.00 C96.25,286.38 96.86,300.47 97.80,300.50 C98.58,300.53 99.62,291.03 100.50,285.00 C101.71,276.65 102.69,264.73 104.00,255.00 C105.24,245.75 106.43,235.74 108.10,228.00 C109.39,222.02 110.48,212.81 112.50,212.30 C113.78,211.98 115.68,214.50 117.00,217.00 C119.78,222.24 120.87,235.74 123.00,245.00 C125.11,254.17 127.15,272.00 129.70,272.30 C131.34,272.49 133.52,266.48 135.00,262.00 C137.41,254.74 137.59,239.41 140.00,232.00 C141.53,227.29 143.49,221.20 145.50,221.00 C147.21,220.83 149.38,224.87 151.00,228.00 C153.49,232.80 154.74,241.90 157.00,248.00 C158.99,253.37 161.37,262.83 163.60,262.80 C166.03,262.77 168.51,250.95 171.00,245.00 C173.51,239.01 175.91,227.16 178.60,227.00 C180.95,226.86 183.14,235.53 186.00,240.00 C189.26,245.09 193.81,255.84 197.30,255.80 C200.42,255.76 203.03,247.00 206.00,243.00 C208.77,239.27 211.67,232.65 214.50,232.50 C217.00,232.37 219.53,236.92 222.00,240.00 C225.16,243.95 228.16,254.58 231.30,254.70 C234.17,254.81 237.13,246.54 240.00,243.00 C242.53,239.88 244.83,234.67 247.50,234.50 C250.17,234.33 253.18,239.20 256.00,242.00 C259.15,245.12 262.27,249.00 265.40,252.50" stroke="#c01cb4" stroke-width="1.40" fill="none" stroke-linejoin="round"/>
</g>
<g clip-path="url(#clipc)">
<path d="M320.30,127.30 C326.87,127.30 333.22,127.30 340.00,127.30 C347.23,127.30 359.70,127.66 362.40,127.30 C363.01,127.22 363.20,127.34 363.50,127.00 C364.25,126.15 364.22,123.16 364.50,120.00 C365.07,113.50 365.21,100.72 365.50,90.00 C365.83,77.62 366.03,62.10 366.30,50.00 C366.53,39.95 366.73,22.40 367.00,22.40 C367.24,22.40 367.51,37.28 367.80,45.00 C368.11,53.12 367.65,66.38 368.80,70.00 C369.16,71.12 369.73,72.07 370.10,72.00 C370.75,71.87 371.01,64.58 371.40,64.60 C372.05,64.63 372.42,78.00 373.00,85.00 C373.62,92.44 374.23,101.29 375.00,108.00 C375.60,113.25 376.04,118.67 377.00,122.00 C377.57,123.97 377.99,125.72 379.00,126.50 C379.79,127.11 381.00,127.00 382.00,127.00 C383.00,127.00 384.15,127.21 385.00,126.50 C386.46,125.28 387.14,120.97 388.00,118.00 C388.92,114.83 389.51,111.14 390.30,108.00 C391.01,105.18 391.39,101.68 392.50,100.00 C393.19,98.95 394.27,99.09 395.00,98.00 C396.32,96.04 397.08,91.10 398.00,88.00 C398.79,85.32 399.28,82.14 400.20,80.50 C400.74,79.54 401.41,78.42 402.00,78.50 C402.84,78.61 403.74,81.32 404.50,83.30 C405.59,86.15 406.17,91.14 407.30,94.20 C408.18,96.58 408.99,100.05 410.30,100.30 C411.57,100.54 413.39,97.41 415.00,96.00 C416.63,94.57 418.32,93.11 420.00,91.80 C421.62,90.55 423.29,89.07 424.90,88.30 C426.22,87.67 427.50,87.17 428.80,87.20 C430.13,87.23 431.56,88.33 432.80,88.50 C433.83,88.65 434.70,88.72 435.70,88.40 C436.98,87.98 438.32,86.72 439.70,85.70 C441.28,84.53 442.96,83.02 444.60,81.70 C446.23,80.39 447.89,79.18 449.50,77.80 C451.16,76.38 452.71,74.64 454.40,73.30 C456.01,72.02 457.68,71.05 459.40,69.90 C461.21,68.69 463.34,67.16 465.00,66.20 C466.25,65.48 467.19,65.03 468.40,64.50 C469.73,63.92 471.25,63.72 472.70,62.90 C474.50,61.88 476.54,59.41 478.20,58.50 C479.35,57.87 480.08,57.66 481.40,57.40 C483.39,57.00 486.30,56.95 489.10,56.90 C492.46,56.84 496.61,57.62 500.20,57.20 C503.70,56.79 507.07,55.76 510.40,54.50 C513.85,53.19 517.31,51.00 520.50,49.40 C523.37,47.96 526.02,46.34 528.70,45.30 C531.11,44.37 533.40,44.06 535.80,43.30 C538.33,42.50 540.93,41.50 543.50,40.60" stroke="#c0660f" stroke-width="1.25" fill="none" stroke-linejoin="round"/>
</g>
<g clip-path="url(#clipd)">
<path d="M320.30,293.50 C326.87,293.50 333.27,293.50 340.00,293.50 C347.08,293.50 359.14,293.86 361.80,293.50 C362.41,293.42 362.59,293.55 362.90,293.20 C363.74,292.26 363.84,288.70 364.20,285.00 C364.94,277.40 365.10,261.67 365.50,250.00 C365.90,238.33 366.18,224.28 366.60,215.00 C366.88,208.86 367.18,199.70 367.50,199.70 C367.82,199.70 368.17,209.77 368.50,215.00 C368.84,220.52 368.99,226.29 369.50,232.00 C370.02,237.82 370.92,243.38 371.60,249.60 C372.36,256.61 372.92,265.70 373.80,272.00 C374.45,276.63 374.77,280.62 376.00,284.00 C377.00,286.75 378.41,289.70 380.00,291.00 C381.11,291.90 382.63,292.29 383.70,292.20 C384.57,292.13 385.33,291.64 386.00,291.00 C386.85,290.19 387.47,288.86 388.10,287.40 C388.96,285.41 389.52,282.30 390.30,280.00 C391.00,277.94 391.40,275.90 392.50,274.20 C393.60,272.50 395.37,271.25 396.90,269.80 C398.47,268.31 400.41,265.24 401.80,265.40 C403.08,265.55 404.03,268.29 405.00,270.00 C406.09,271.91 406.52,274.55 407.90,276.40 C409.31,278.29 411.28,280.78 413.40,281.20 C415.64,281.65 418.53,279.47 421.10,278.60 C423.67,277.73 426.46,276.27 428.80,276.00 C430.68,275.78 432.22,276.26 434.00,276.50 C435.89,276.75 437.58,277.64 439.80,277.50 C442.92,277.30 447.86,275.17 450.90,274.10 C453.07,273.33 454.58,272.64 456.40,271.90 C458.21,271.17 459.64,270.29 461.80,269.70 C464.76,268.89 469.07,268.63 472.70,268.10 C476.33,267.57 479.97,267.02 483.60,266.50 C487.23,265.98 491.43,265.29 494.50,265.00 C496.73,264.79 497.78,264.86 500.30,264.70 C505.00,264.39 513.55,263.69 520.50,263.10 C527.92,262.47 535.83,261.70 543.50,261.00" stroke="#c01cb4" stroke-width="1.25" fill="none" stroke-linejoin="round"/>
</g>
<path d="M71.31,152.30v-4.00 M71.31,3.00v4.00 M99.12,152.30v-7.00 M99.12,3.00v7.00 M126.94,152.30v-4.00 M126.94,3.00v4.00 M154.75,152.30v-7.00 M154.75,3.00v7.00 M182.56,152.30v-4.00 M182.56,3.00v4.00 M210.38,152.30v-7.00 M210.38,3.00v7.00 M238.19,152.30v-4.00 M238.19,3.00v4.00 M43.50,127.42h7.00 M266.00,127.42h-7.00 M43.50,102.53h4.00 M266.00,102.53h-4.00 M43.50,77.65h7.00 M266.00,77.65h-7.00 M43.50,52.77h4.00 M266.00,52.77h-4.00 M43.50,27.88h7.00 M266.00,27.88h-7.00" stroke="#474747" stroke-width="1.1" fill="none"/>
<rect x="43.50" y="3.00" width="222.50" height="149.30" stroke="#474747" stroke-width="1.3" fill="none"/>
<text x="40.58" y="165.30" font-size="10.50">0</text>
<text x="96.21" y="165.30" font-size="10.50">5</text>
<path transform="translate(148.91,165.30) scale(0.00513,-0.00513)" d="M763 0H583V1147C540 1106 483 1065 413 1024C342 983 279 952 223 931V1105C324 1152 412 1210 487 1277C562 1344 615 1409 646 1472H763Z"/>
<text x="154.75" y="165.30" font-size="10.50">0</text>
<path transform="translate(204.54,165.30) scale(0.00513,-0.00513)" d="M763 0H583V1147C540 1106 483 1065 413 1024C342 983 279 952 223 931V1105C324 1152 412 1210 487 1277C562 1344 615 1409 646 1472H763Z"/>
<text x="210.38" y="165.30" font-size="10.50">5</text>
<text x="260.16" y="165.30" font-size="10.50">20</text>
<path transform="translate(27.96,31.28) scale(0.00513,-0.00513)" d="M763 0H583V1147C540 1106 483 1065 413 1024C342 983 279 952 223 931V1105C324 1152 412 1210 487 1277C562 1344 615 1409 646 1472H763Z"/>
<text x="27.96" y="81.05" font-size="10.50">0</text>
<text x="24.46" y="130.82" font-size="10.50">-</text>
<path transform="translate(27.96,130.82) scale(0.00513,-0.00513)" d="M763 0H583V1147C540 1106 483 1065 413 1024C342 983 279 952 223 931V1105C324 1152 412 1210 487 1277C562 1344 615 1409 646 1472H763Z"/>
<path d="M71.31,318.50v-4.00 M71.31,169.50v4.00 M99.12,318.50v-7.00 M99.12,169.50v7.00 M126.94,318.50v-4.00 M126.94,169.50v4.00 M154.75,318.50v-7.00 M154.75,169.50v7.00 M182.56,318.50v-4.00 M182.56,169.50v4.00 M210.38,318.50v-7.00 M210.38,169.50v7.00 M238.19,318.50v-4.00 M238.19,169.50v4.00 M43.50,293.67h7.00 M266.00,293.67h-7.00 M43.50,268.83h4.00 M266.00,268.83h-4.00 M43.50,244.00h7.00 M266.00,244.00h-7.00 M43.50,219.17h4.00 M266.00,219.17h-4.00 M43.50,194.33h7.00 M266.00,194.33h-7.00" stroke="#474747" stroke-width="1.1" fill="none"/>
<rect x="43.50" y="169.50" width="222.50" height="149.00" stroke="#474747" stroke-width="1.3" fill="none"/>
<text x="40.58" y="331.50" font-size="10.50">0</text>
<text x="96.21" y="331.50" font-size="10.50">5</text>
<path transform="translate(148.91,331.50) scale(0.00513,-0.00513)" d="M763 0H583V1147C540 1106 483 1065 413 1024C342 983 279 952 223 931V1105C324 1152 412 1210 487 1277C562 1344 615 1409 646 1472H763Z"/>
<text x="154.75" y="331.50" font-size="10.50">0</text>
<path transform="translate(204.54,331.50) scale(0.00513,-0.00513)" d="M763 0H583V1147C540 1106 483 1065 413 1024C342 983 279 952 223 931V1105C324 1152 412 1210 487 1277C562 1344 615 1409 646 1472H763Z"/>
<text x="210.38" y="331.50" font-size="10.50">5</text>
<text x="260.16" y="331.50" font-size="10.50">20</text>
<path transform="translate(30.36,197.73) scale(0.00513,-0.00513)" d="M763 0H583V1147C540 1106 483 1065 413 1024C342 983 279 952 223 931V1105C324 1152 412 1210 487 1277C562 1344 615 1409 646 1472H763Z"/>
<text x="30.36" y="247.40" font-size="10.50">0</text>
<text x="26.86" y="297.07" font-size="10.50">-</text>
<path transform="translate(30.36,297.07) scale(0.00513,-0.00513)" d="M763 0H583V1147C540 1106 483 1065 413 1024C342 983 279 952 223 931V1105C324 1152 412 1210 487 1277C562 1344 615 1409 646 1472H763Z"/>
<path d="M342.60,152.30v-4.00 M342.60,3.00v4.00 M364.90,152.30v-7.00 M364.90,3.00v7.00 M387.20,152.30v-4.00 M387.20,3.00v4.00 M409.50,152.30v-7.00 M409.50,3.00v7.00 M431.80,152.30v-4.00 M431.80,3.00v4.00 M454.10,152.30v-7.00 M454.10,3.00v7.00 M476.40,152.30v-4.00 M476.40,3.00v4.00 M498.70,152.30v-7.00 M498.70,3.00v7.00 M521.00,152.30v-4.00 M521.00,3.00v4.00 M320.30,127.42h7.00 M543.30,127.42h-7.00 M320.30,102.53h4.00 M543.30,102.53h-4.00 M320.30,77.65h7.00 M543.30,77.65h-7.00 M320.30,52.77h4.00 M543.30,52.77h-4.00 M320.30,27.88h7.00 M543.30,27.88h-7.00" stroke="#474747" stroke-width="1.1" fill="none"/>
<rect x="320.30" y="3.00" width="223.00" height="149.30" stroke="#474747" stroke-width="1.3" fill="none"/>
<text x="317.38" y="165.30" font-size="10.50">0</text>
<text x="361.98" y="165.30" font-size="10.50">2</text>
<text x="406.58" y="165.30" font-size="10.50">4</text>
<text x="451.18" y="165.30" font-size="10.50">6</text>
<text x="495.78" y="165.30" font-size="10.50">8</text>
<path transform="translate(537.46,165.30) scale(0.00513,-0.00513)" d="M763 0H583V1147C540 1106 483 1065 413 1024C342 983 279 952 223 931V1105C324 1152 412 1210 487 1277C562 1344 615 1409 646 1472H763Z"/>
<text x="543.30" y="165.30" font-size="10.50">0</text>
<text x="304.96" y="31.28" font-size="10.50">4</text>
<text x="304.96" y="81.05" font-size="10.50">2</text>
<text x="304.96" y="130.82" font-size="10.50">0</text>
<path d="M342.60,318.50v-4.00 M342.60,169.50v4.00 M364.90,318.50v-7.00 M364.90,169.50v7.00 M387.20,318.50v-4.00 M387.20,169.50v4.00 M409.50,318.50v-7.00 M409.50,169.50v7.00 M431.80,318.50v-4.00 M431.80,169.50v4.00 M454.10,318.50v-7.00 M454.10,169.50v7.00 M476.40,318.50v-4.00 M476.40,169.50v4.00 M498.70,318.50v-7.00 M498.70,169.50v7.00 M521.00,318.50v-4.00 M521.00,169.50v4.00 M320.30,293.67h7.00 M543.30,293.67h-7.00 M320.30,268.83h4.00 M543.30,268.83h-4.00 M320.30,244.00h7.00 M543.30,244.00h-7.00 M320.30,219.17h4.00 M543.30,219.17h-4.00 M320.30,194.33h7.00 M543.30,194.33h-7.00" stroke="#474747" stroke-width="1.1" fill="none"/>
<rect x="320.30" y="169.50" width="223.00" height="149.00" stroke="#474747" stroke-width="1.3" fill="none"/>
<text x="317.38" y="331.50" font-size="10.50">0</text>
<text x="361.98" y="331.50" font-size="10.50">2</text>
<text x="406.58" y="331.50" font-size="10.50">4</text>
<text x="451.18" y="331.50" font-size="10.50">6</text>
<text x="495.78" y="331.50" font-size="10.50">8</text>
<path transform="translate(537.46,331.50) scale(0.00513,-0.00513)" d="M763 0H583V1147C540 1106 483 1065 413 1024C342 983 279 952 223 931V1105C324 1152 412 1210 487 1277C562 1344 615 1409 646 1472H763Z"/>
<text x="543.30" y="331.50" font-size="10.50">0</text>
<text x="307.16" y="197.73" font-size="10.50">4</text>
<text x="307.16" y="247.40" font-size="10.50">2</text>
<text x="307.16" y="297.07" font-size="10.50">0</text>
<rect x="186.10" y="109.90" width="33.90" height="19.70" fill="#fdc640"/>
<text x="203.05" y="117.60" text-anchor="middle" font-size="8.4" font-weight="bold" fill="#111" stroke="#111" stroke-width="0.3">HE-XRD</text>
<text x="203.05" y="127.40" text-anchor="middle" font-size="8.5" font-weight="bold" fill="#111" stroke="#111" stroke-width="0.3">358 K</text>
<rect x="186.10" y="281.60" width="33.90" height="20.20" fill="#f7a3f6"/>
<text x="203.05" y="289.30" text-anchor="middle" font-size="8.4" font-weight="bold" fill="#111" stroke="#111" stroke-width="0.3">HE-XRD</text>
<text x="203.05" y="299.70" text-anchor="middle" font-size="8.5" font-weight="bold" fill="#111" stroke="#111" stroke-width="0.3">723 K</text>
<rect x="463.20" y="80.10" width="34.00" height="20.30" fill="#fdc640"/>
<text x="480.20" y="87.80" text-anchor="middle" font-size="8.4" font-weight="bold" fill="#111" stroke="#111" stroke-width="0.3">HE-XRD</text>
<text x="480.20" y="98.30" text-anchor="middle" font-size="8.5" font-weight="bold" fill="#111" stroke="#111" stroke-width="0.3">358 K</text>
<rect x="463.40" y="281.90" width="33.50" height="19.70" fill="#f7a3f6"/>
<text x="480.15" y="289.80" text-anchor="middle" font-size="8.4" font-weight="bold" fill="#111" stroke="#111" stroke-width="0.3">HE-XRD</text>
<text x="480.15" y="299.60" text-anchor="middle" font-size="8.5" font-weight="bold" fill="#111" stroke="#111" stroke-width="0.3">723 K</text>
<text x="114.30" y="21.80" text-anchor="middle" font-size="8.4" font-weight="bold" fill="#b05c1c" stroke="#b05c1c" stroke-width="0.2">GGA / PBE</text>
<text x="114.30" y="32.40" text-anchor="middle" font-size="8.4" font-weight="bold" fill="#b05c1c" stroke="#b05c1c" stroke-width="0.2">400 K</text>
<text x="115.40" y="189.00" text-anchor="middle" font-size="8.4" font-weight="bold" fill="#a42098" stroke="#a42098" stroke-width="0.2">GGA / PBE</text>
<text x="115.40" y="199.30" text-anchor="middle" font-size="8.4" font-weight="bold" fill="#a42098" stroke="#a42098" stroke-width="0.2">750 K</text>
<text x="394.70" y="23.40" text-anchor="middle" font-size="8.4" font-weight="bold" fill="#b05c1c" stroke="#b05c1c" stroke-width="0.2">GGA / PBE</text>
<text x="394.70" y="33.30" text-anchor="middle" font-size="8.4" font-weight="bold" fill="#b05c1c" stroke="#b05c1c" stroke-width="0.2">400 K</text>
<text x="394.90" y="195.90" text-anchor="middle" font-size="8.4" font-weight="bold" fill="#a42098" stroke="#a42098" stroke-width="0.2">GGA / PBE</text>
<text x="394.90" y="206.30" text-anchor="middle" font-size="8.4" font-weight="bold" fill="#a42098" stroke="#a42098" stroke-width="0.2">750 K</text>
<text x="239.60" y="25.50" text-anchor="middle" font-size="15" fill="#111">(a)</text>
<text x="240.10" y="192.00" text-anchor="middle" font-size="15" fill="#111">(b)</text>
<text x="516.20" y="25.50" text-anchor="middle" font-size="15" fill="#111">(c)</text>
<text x="516.20" y="192.00" text-anchor="middle" font-size="15" fill="#111">(d)</text>
<text x="155.2" y="350.3" text-anchor="middle" font-size="13" fill="#111">Q (Å<tspan font-size="8.5" dy="-5.4">-1</tspan><tspan dy="5.4">)</tspan></text>
<text x="431.5" y="350.0" text-anchor="middle" font-size="13" fill="#111">r (Å)</text>
<text transform="translate(13.2,157.4) rotate(-90) scale(1,1.04)" text-anchor="middle" font-size="13.6" fill="#111">X-Ray Interference Function Q [S<tspan font-size="8.6" dy="4.5">X</tspan><tspan dy="-4.5">(Q)-1]</tspan></text>
<text transform="translate(293.2,163.0) rotate(-90) scale(1,1.04)" text-anchor="middle" font-size="13.6" fill="#111">X-Ray Total Correlation Function T<tspan font-size="8.6" dy="5.2">X</tspan><tspan dy="-5.2">(r)</tspan></text>
</svg>
</body></html>
